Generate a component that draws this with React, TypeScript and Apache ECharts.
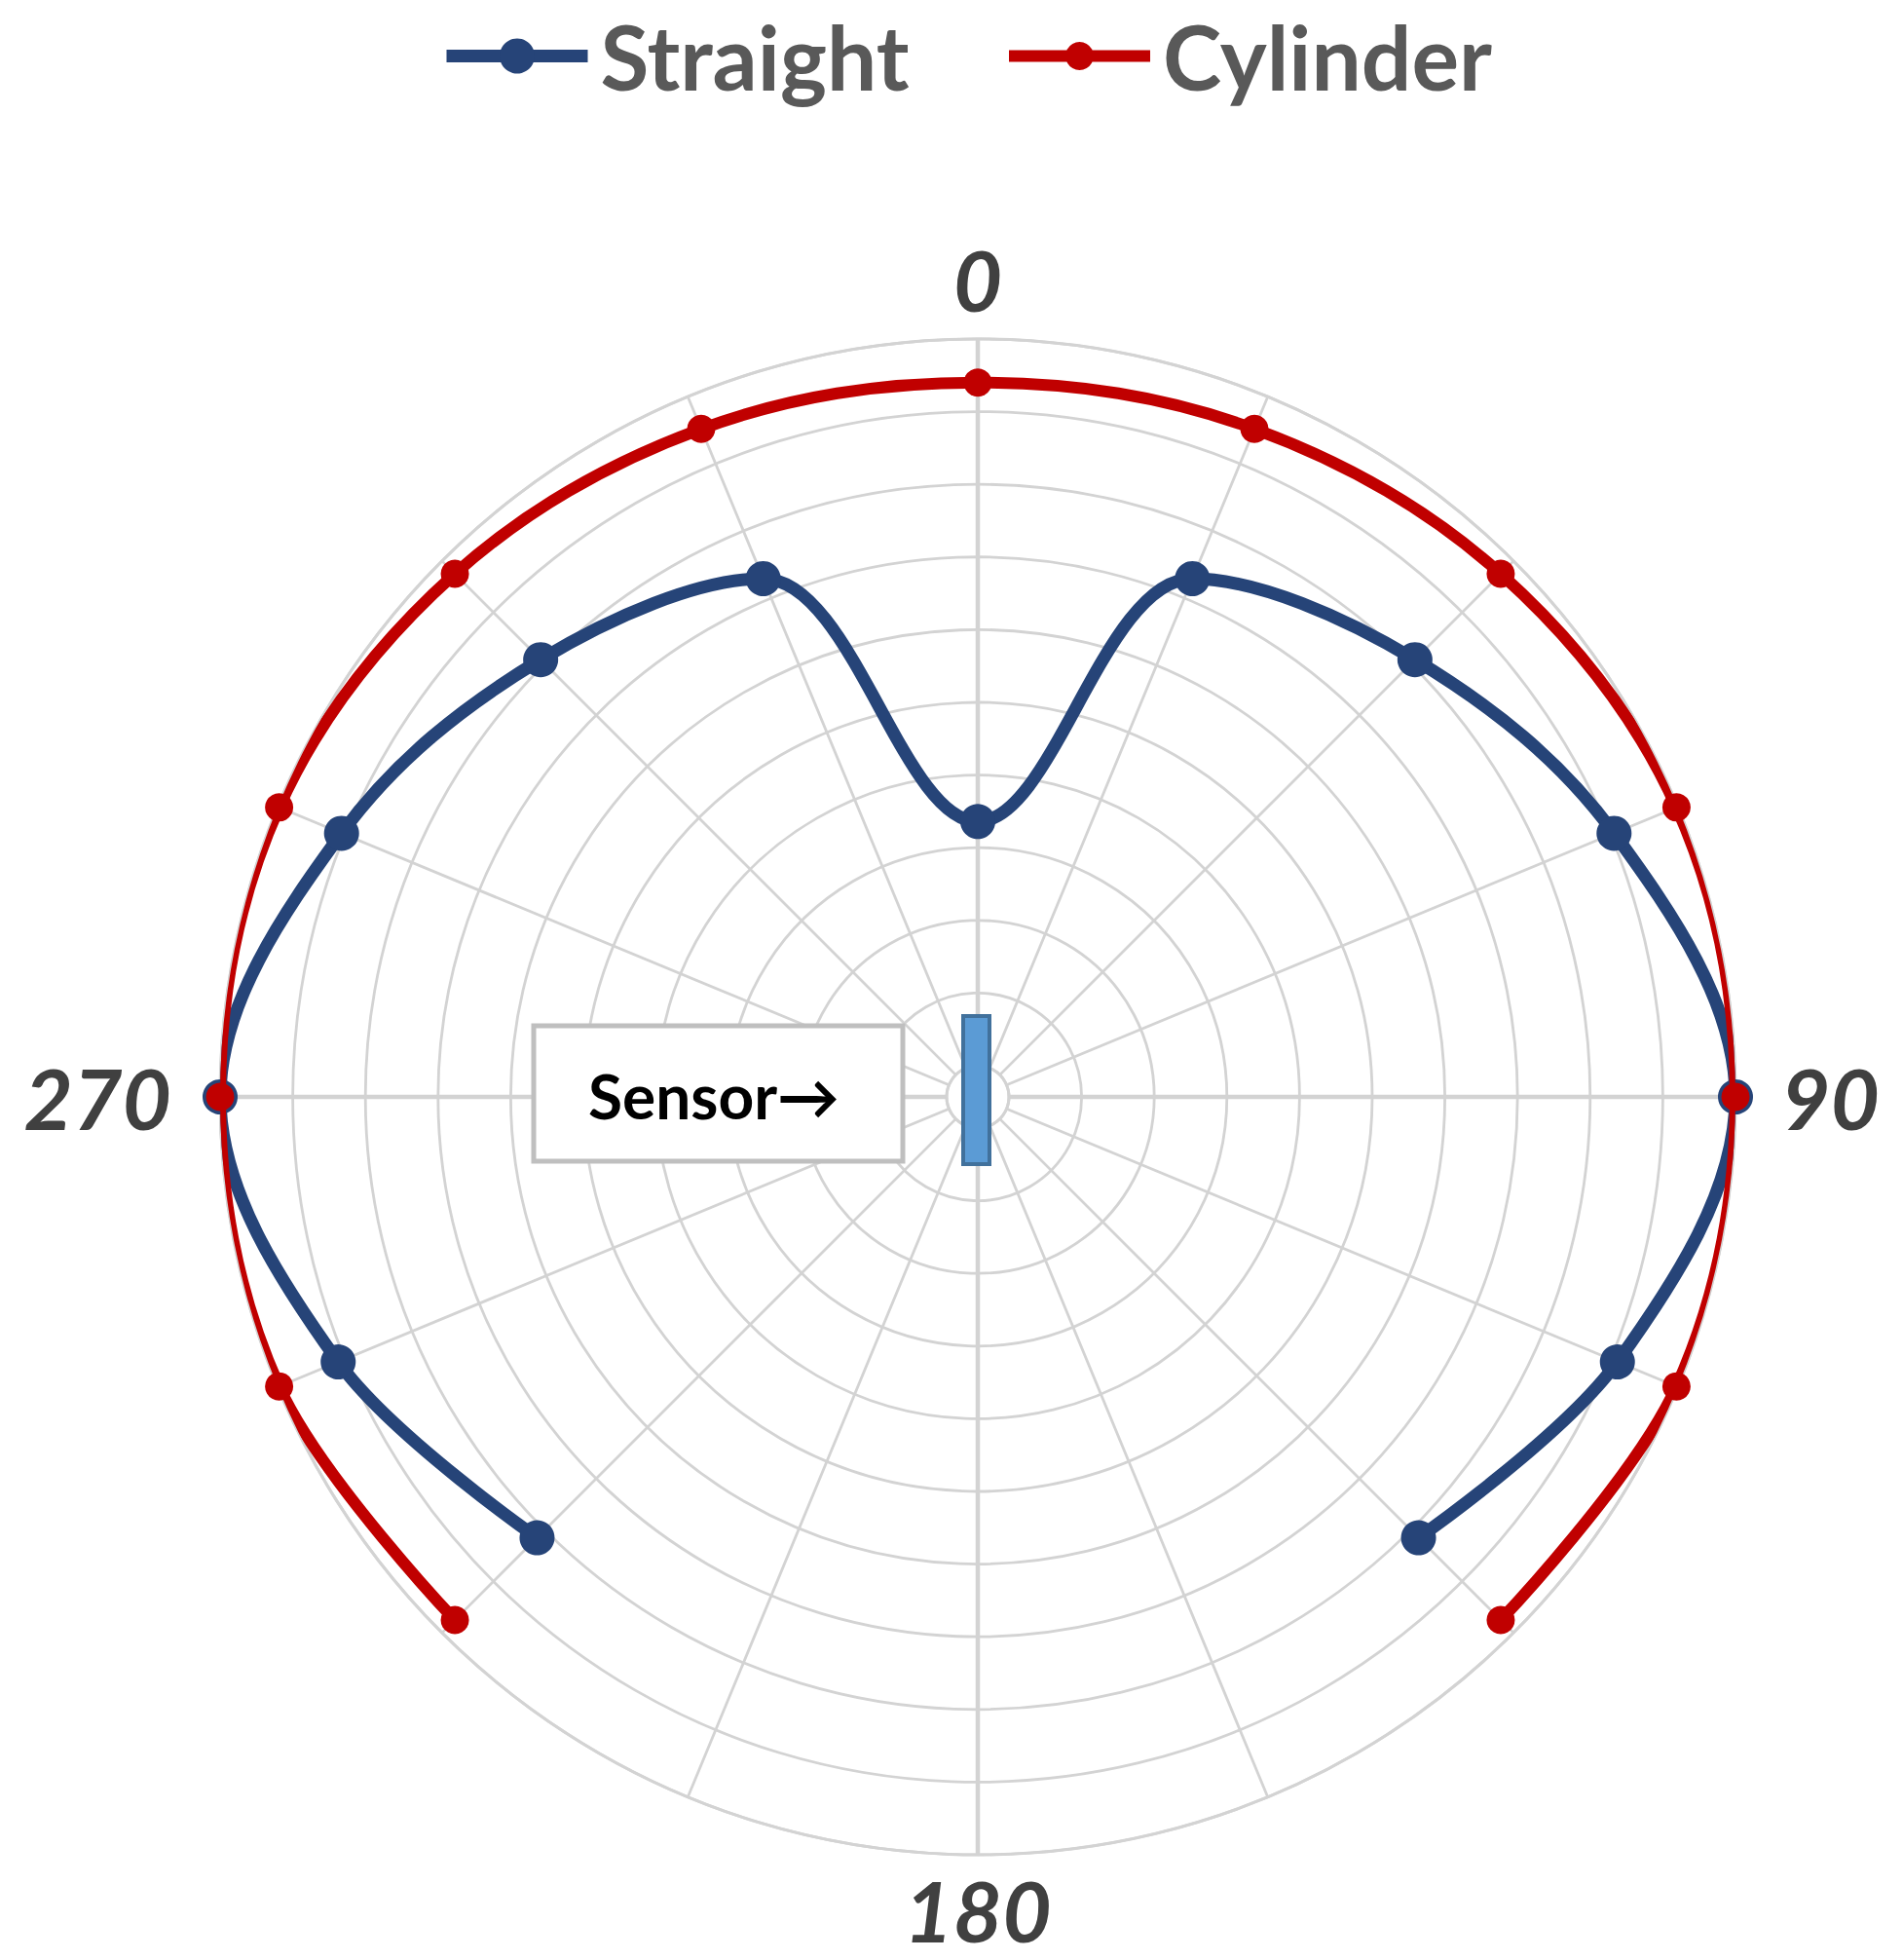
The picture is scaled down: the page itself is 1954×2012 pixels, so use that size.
import React, { useEffect, useRef } from "react";
import * as echarts from "echarts";

// Angles (degrees) in drawing order: the open gap sits at 157.5–202.5
const angles = [225, 247.5, 270, 292.5, 315, 337.5, 360, 22.5, 45, 67.5, 90, 112.5, 135];
const straightValues = [81.5, 91, 100, 90.5, 80.8, 72.9, 33.6, 72.9, 80.8, 90.5, 100, 91, 81.5];
const cylinderValues = [97.5, 99.8, 100, 99.8, 97.5, 95.2, 94.0, 95.2, 97.5, 99.8, 100, 99.8, 97.5];
const seriesNames = ["Straight", "Cylinder"];
const angleLabelTicks = [0, 90, 180, 270];
const sensorLabel = "Sensor→";

const BLUE = "#264478";
const RED = "#c00000";
const GRID = "#d3d3d3";

const LABEL_STYLE_KEY: Record<number, string> = { 0: "t", 90: "r", 180: "b", 270: "l" };

export default function App() {
  const ref = useRef<HTMLDivElement>(null);

  useEffect(() => {
    document.body.style.margin = "0";
    if (!ref.current) return;
    const chart = echarts.init(ref.current, undefined, { renderer: "svg" });

    const straightData = angles.map((a, i) => [straightValues[i], a]);
    const cylinderData = angles.map((a, i) => [cylinderValues[i], a]);

    const center = [1004, 1126];
    const radius = [32, 778];

    const labelFont = {
      fontFamily: "Lato, 'DejaVu Sans', sans-serif",
      fontWeight: "bold",
      fontStyle: "italic",
      fontSize: 87,
      lineHeight: 88,
      color: "#404040",
    };

    const legendText = {
      fontFamily: "Lato, 'DejaVu Sans', sans-serif",
      fontWeight: "bold",
      fontSize: 91,
      color: "#595959",
      padding: [0, 0, 0, 8],
    };

    const option: any = {
      animation: false,
      backgroundColor: "#ffffff",
      legend: [
        {
          data: [seriesNames[0]],
          left: 452,
          top: 12,
          padding: 0,
          itemWidth: 145,
          itemHeight: 45,
          lineStyle: { width: 13 },
          textStyle: legendText,
        },
        {
          data: [seriesNames[1]],
          left: 1030,
          top: 12,
          padding: 0,
          itemWidth: 145,
          itemHeight: 36,
          lineStyle: { width: 12 },
          textStyle: legendText,
        },
      ],
      polar: [
        { center, radius },
        { center, radius },
      ],
      angleAxis: [
        {
          polarIndex: 0,
          type: "value",
          min: 0,
          max: 360,
          interval: 22.5,
          startAngle: 90,
          clockwise: true,
          axisLine: { show: true, lineStyle: { color: GRID, width: 3 } },
          axisTick: { show: false },
          axisLabel: { show: false },
          splitLine: { show: true, lineStyle: { color: GRID, width: 2.8 } },
        },
        {
          polarIndex: 1,
          type: "value",
          min: 0,
          max: 360,
          interval: 90,
          startAngle: 90,
          clockwise: true,
          axisLine: { show: false },
          axisTick: { show: false },
          axisLabel: {
            show: true,
            margin: 12,
            ...labelFont,
            formatter: (v: number) =>
              angleLabelTicks.indexOf(v) >= 0 ? `{${LABEL_STYLE_KEY[v]}|${v}}` : "",
            rich: {
              t: { ...labelFont, padding: [0, 0, 11, 0] },
              r: { ...labelFont, padding: [0, 0, 0, 35] },
              b: { ...labelFont, padding: [0, 0, 0, 0] },
              l: { ...labelFont, padding: [0, 38, 0, 0] },
            },
          },
          splitLine: { show: true, lineStyle: { color: GRID, width: 4.5 } },
        },
      ],
      radiusAxis: [
        {
          polarIndex: 0,
          type: "value",
          min: 0,
          max: 100,
          interval: 10,
          axisLine: { show: false },
          axisTick: { show: false },
          axisLabel: { show: false },
          splitLine: { show: true, lineStyle: { color: GRID, width: 2.8 } },
        },
        {
          polarIndex: 1,
          type: "value",
          min: 0,
          max: 100,
          interval: 10,
          axisLine: { show: false },
          axisTick: { show: false },
          axisLabel: { show: false },
          splitLine: { show: false },
        },
      ],
      series: [
        {
          name: seriesNames[0],
          type: "line",
          coordinateSystem: "polar",
          polarIndex: 0,
          data: straightData,
          smooth: 0.35,
          symbol: "circle",
          symbolSize: 36,
          lineStyle: { color: BLUE, width: 13 },
          itemStyle: { color: BLUE },
          z: 3,
        },
        {
          name: seriesNames[1],
          type: "line",
          coordinateSystem: "polar",
          polarIndex: 0,
          data: cylinderData,
          smooth: 0.35,
          symbol: "circle",
          symbolSize: 29,
          lineStyle: { color: RED, width: 12 },
          itemStyle: { color: RED },
          z: 4,
        },
      ],
      graphic: [
        {
          type: "rect",
          shape: { x: 548, y: 1053, width: 379, height: 139 },
          style: { fill: "#ffffff", stroke: "#bfbfbf", lineWidth: 5 },
          z: 10,
        },
        {
          type: "text",
          x: 733,
          y: 1124,
          style: {
            text: sensorLabel,
            fill: "#000000",
            font: "bold 64px Lato, 'DejaVu Sans', sans-serif",
            align: "center",
            verticalAlign: "middle",
          },
          z: 11,
        },
        {
          type: "rect",
          shape: { x: 989, y: 1043, width: 27, height: 152 },
          style: { fill: "#5b9bd5", stroke: "#41719c", lineWidth: 4 },
          z: 10,
        },
      ],
    };

    chart.setOption(option);
    return () => chart.dispose();
  }, []);

  return <div ref={ref} style={{ width: 1954, height: 2012 }} />;
}
